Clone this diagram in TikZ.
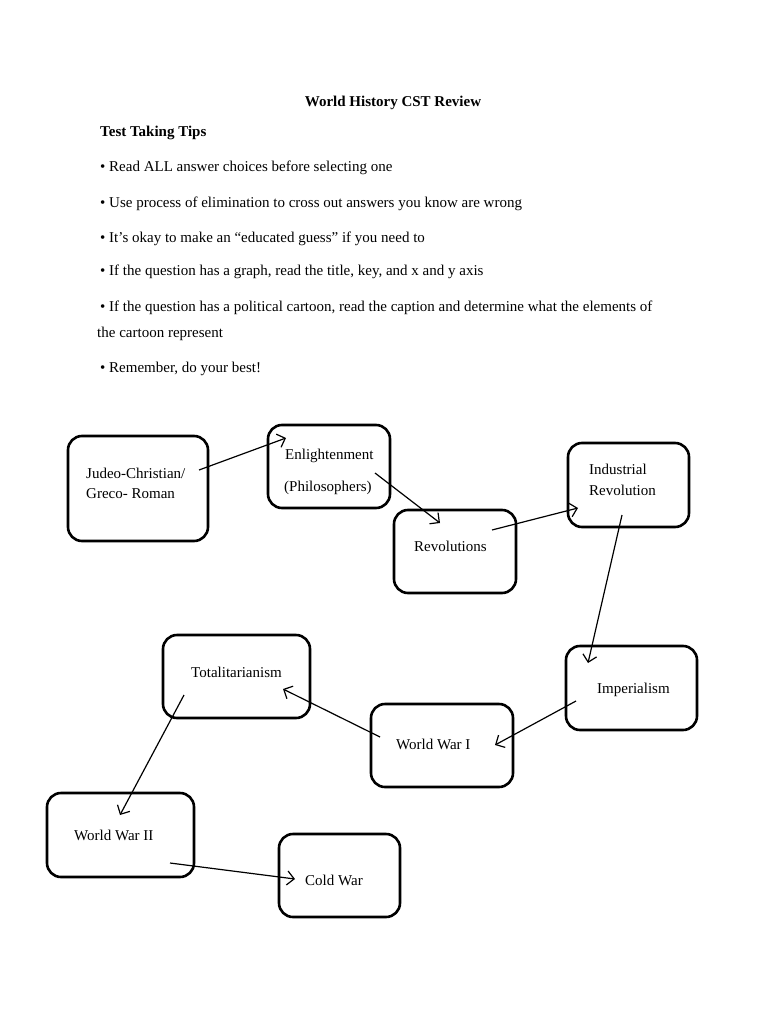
\documentclass[tikz,border=0pt]{standalone}
\usepackage{fontspec}
\setmainfont{Liberation Serif}
\usetikzlibrary{arrows.meta}
\begin{document}
\begin{tikzpicture}[x=1pt,y=-1pt,
  box/.style={draw, line width=2.6pt, rounded corners=14pt, inner sep=0pt},
  lbl/.style={font=\fontsize{15}{18}\selectfont, inner sep=0pt, anchor=base west},
  hdr/.style={font=\fontsize{15}{18}\selectfont, inner sep=0pt, anchor=base west},
  conn/.style={line width=1.2pt, -{Straight Barb[length=7pt,width=14pt]}},
]
\useasboundingbox (0,0) rectangle (768,1024);
\fill[white] (0,0) rectangle (768,1024);

% header
\node[hdr, font=\fontsize{15}{18}\selectfont\bfseries, anchor=base] (title) at (393,107) {World History CST Review};
\node[hdr, font=\fontsize{15}{18}\selectfont\bfseries] (tips) at (100,137) {Test Taking Tips};
\node[hdr] (t1) at (100,172) {• Read ALL answer choices before selecting one};
\node[hdr] (t2) at (100,208) {• Use process of elimination to cross out answers you know are wrong};
\node[hdr] (t3) at (100,242) {• It’s okay to make an “educated guess” if you need to};
\node[hdr] (t4) at (100,275) {• If the question has a graph, read the title, key, and x and y axis};
\node[hdr] (t5) at (100,311) {• If the question has a political cartoon, read the caption and determine what the elements of};
\node[hdr] (t6) at (97,337) {the cartoon represent};
\node[hdr] (t7) at (100,372) {• Remember, do your best!};

% boxes
\node[box, minimum width=140pt, minimum height=105pt] (judeo) at (138,488.5) {};
\node[box, minimum width=122pt, minimum height=83pt] (enl) at (329,466.5) {};
\node[box, minimum width=122pt, minimum height=83pt] (rev) at (455,551.5) {};
\node[box, minimum width=121pt, minimum height=84pt] (ind) at (628.5,485) {};
\node[box, minimum width=131pt, minimum height=84pt] (imp) at (631.5,688) {};
\node[box, minimum width=142pt, minimum height=83pt] (ww1) at (442,745.5) {};
\node[box, minimum width=147pt, minimum height=83pt] (tot) at (236.5,676.5) {};
\node[box, minimum width=147pt, minimum height=84pt] (ww2) at (120.5,835) {};
\node[box, minimum width=121pt, minimum height=83pt] (cold) at (339.5,875.5) {};

% labels
\node[lbl] (judeoA) at (86,478) {Judeo-Christian/};
\node[lbl] (judeoB) at (86,498) {Greco- Roman};
\node[lbl] (enlA) at (285,459) {Enlightenment};
\node[lbl] (enlB) at (284,491) {(Philosophers)};
\node[lbl] (revA) at (414,551) {Revolutions};
\node[lbl] (indA) at (589,474) {Industrial};
\node[lbl] (indB) at (589,495) {Revolution};
\node[lbl] (impA) at (597,693) {Imperialism};
\node[lbl] (ww1A) at (396,749) {World War I};
\node[lbl] (totA) at (191,677) {Totalitarianism};
\node[lbl] (ww2A) at (74,840) {World War II};
\node[lbl] (coldA) at (305,885) {Cold War};

% connector end points
\coordinate (c1s) at (199,470); \coordinate (c1e) at (286,438);
\coordinate (c2s) at (375,473); \coordinate (c2e) at (440,523);
\coordinate (c3s) at (492,530); \coordinate (c3e) at (578,508);
\coordinate (c4s) at (622,515); \coordinate (c4e) at (588,663);
\coordinate (c5s) at (576,701); \coordinate (c5e) at (495,745);
\coordinate (c6s) at (380,737); \coordinate (c6e) at (283,689);
\coordinate (c7s) at (184,695); \coordinate (c7e) at (120,815);
\coordinate (c8s) at (170,863); \coordinate (c8e) at (295,879);

\draw[conn] (c1s) -- (c1e);
\draw[conn] (c2s) -- (c2e);
\draw[conn] (c3s) -- (c3e);
\draw[conn] (c4s) -- (c4e);
\draw[conn] (c5s) -- (c5e);
\draw[conn] (c6s) -- (c6e);
\draw[conn] (c7s) -- (c7e);
\draw[conn] (c8s) -- (c8e);
\end{tikzpicture}
\end{document}
